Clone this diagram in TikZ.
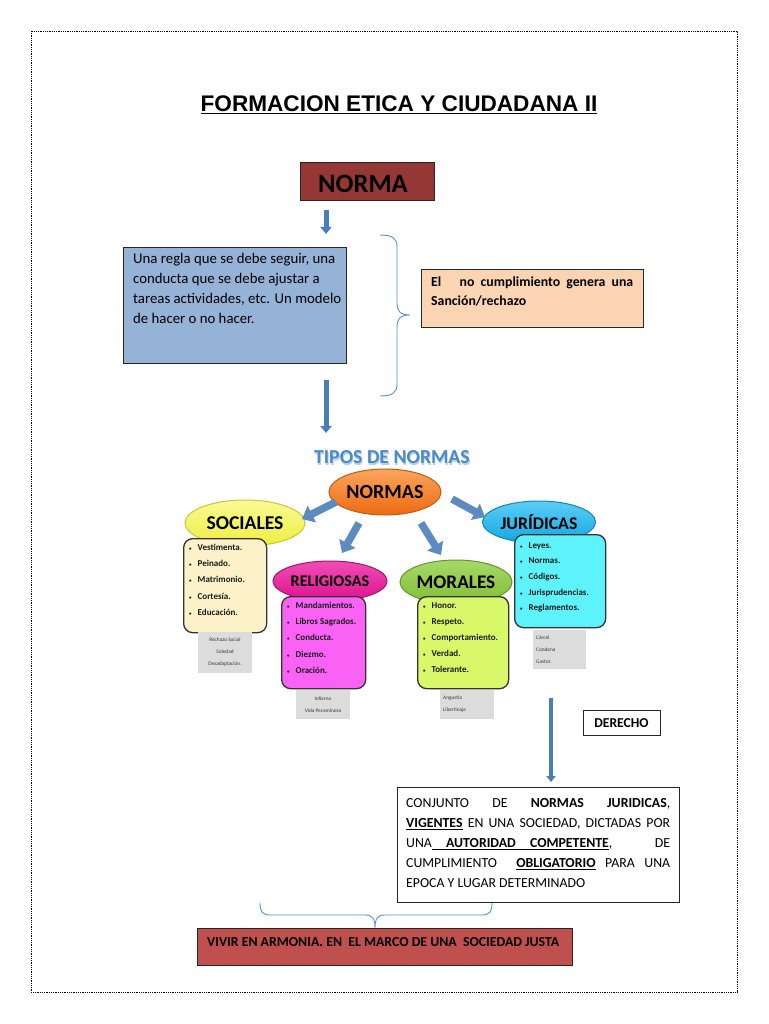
\documentclass[tikz,border=0pt]{standalone}
\usepackage{fontspec}
\setmainfont{Carlito}
\newfontfamily\arialf{Liberation Sans}
\usetikzlibrary{shapes.geometric,arrows.meta,calc}
\definecolor{normared}{HTML}{953735}
\definecolor{bluebox}{HTML}{95B3D7}
\definecolor{peach}{HTML}{FBD4B4}
\definecolor{redbox}{HTML}{C0504D}
\definecolor{arrowblue}{HTML}{4A7EBB}
\definecolor{bracecol}{HTML}{5B93D3}
\definecolor{tiposblue}{HTML}{4A8AC8}
\definecolor{orangeT}{HTML}{FBA55E}
\definecolor{orangeB}{HTML}{EE6A12}
\definecolor{orangeD}{HTML}{C05A10}
\definecolor{yellowT}{HTML}{FAFA95}
\definecolor{yellowB}{HTML}{EEEE40}
\definecolor{yellowD}{HTML}{C8C830}
\definecolor{cyanT}{HTML}{5CCDF5}
\definecolor{cyanB}{HTML}{12A8E2}
\definecolor{cyanD}{HTML}{0E86B8}
\definecolor{magT}{HTML}{F04DB5}
\definecolor{magB}{HTML}{DD1290}
\definecolor{magD}{HTML}{A80E6E}
\definecolor{greenT}{HTML}{A8D868}
\definecolor{greenB}{HTML}{80BE36}
\definecolor{greenD}{HTML}{62982A}
\definecolor{socfill}{HTML}{FDF1C9}
\definecolor{relfill}{HTML}{FA62F5}
\definecolor{morfill}{HTML}{D8F86A}
\definecolor{jurfill}{HTML}{5CF3FC}
\definecolor{grayfill}{HTML}{DCDCDC}
\definecolor{itemtext}{HTML}{1A1A1A}
\begin{document}
\begin{tikzpicture}[x=1pt,y=-1pt,
  plainbox/.style={draw=black!85, line width=0.8pt, minimum width=#1, inner sep=0pt},
  vblock/.style={draw=arrowblue, line width=5pt, -{Triangle[width=11pt,length=7pt]}},
  fatarrow/.style={draw=arrowblue!90, line width=7.5pt, -{Triangle[width=18pt,length=11pt]}},
  bracedeco/.style={draw=bracecol, line width=0.9pt},
  ell/.style={ellipse, line width=1pt, inner sep=0pt, font=\bfseries},
  listbox/.style={draw=black!80, line width=1.3pt, rounded corners=9pt, inner sep=0pt},
  listtext/.style={anchor=north west, inner sep=0pt, align=left, text=itemtext, font=\bfseries\fontsize{9}{16.2}\selectfont},
  graybox/.style={fill=grayfill, inner sep=0pt},
  graytext/.style={inner sep=0pt, text=black!78, font=\fontsize{5.3}{12}\selectfont}
]
\useasboundingbox (0,0) rectangle (768,1024);
\fill[white] (0,0) rectangle (768,1024);
\draw[densely dotted, line width=0.8pt] (31,31) rectangle (737,992);

% title
\node (title) at (399,105) {\arialf\bfseries\fontsize{22.6}{26}\selectfont\underline{FORMACION ETICA Y CIUDADANA II}};

% NORMA
\node[plainbox=134pt, minimum height=38pt, fill=normared] (norma) at (367,181) {};
\node[inner sep=0pt] (normatxt) at (363,184) {\bfseries\fontsize{26.5}{28}\selectfont NORMA};

\coordinate (a1s) at (326,210);
\coordinate (a1e) at (326,234);
\draw[vblock] (a1s) -- (a1e);

% blue definition box
\node[plainbox=223pt, minimum height=116pt, fill=bluebox, anchor=north west] (def) at (123,247) {};
\node[anchor=north west, inner sep=0pt, align=left, font=\fontsize{14.8}{20}\selectfont] (deftxt) at (133,253)
  {Una regla que se debe seguir, una\\conducta que se debe ajustar a\\tareas actividades, etc. Un modelo\\de hacer o no hacer.};

% right brace
\coordinate (brt) at (380,235);
\coordinate (brm) at (410,315);
\coordinate (brb) at (380,396);
\draw[bracedeco] (brt) .. controls (392,235) and (397,238) .. (397,247) -- (397,303)
  .. controls (397,311) and (400,315) .. (brm)
  .. controls (400,315) and (397,319) .. (397,327) -- (397,384)
  .. controls (397,393) and (392,396) .. (brb);

% peach box
\node[plainbox=222pt, minimum height=58pt, fill=peach, anchor=north west] (sancion) at (421,269) {};
\node[anchor=north west, inner sep=0pt, align=left, font=\bfseries\fontsize{13.8}{19}\selectfont] (sanciontxt) at (431,277)
  {\makebox[202pt][s]{El\ \ \ no cumplimiento genera una}\\Sanción/rechazo};

\coordinate (a2s) at (326,380);
\coordinate (a2e) at (326,433);
\draw[vblock] (a2s) -- (a2e);

% TIPOS DE NORMAS
\node[text=tiposblue!40, inner sep=0pt] (tiposshadow) at (392.8,459) {\bfseries\fontsize{19.8}{22}\selectfont TIPOS DE NORMAS};
\node[text=tiposblue, inner sep=0pt] (tipos) at (392,457) {\bfseries\fontsize{19.8}{22}\selectfont TIPOS DE NORMAS};

% ellipses
\node[ell, minimum width=112pt, minimum height=46pt, top color=orangeT, bottom color=orangeB, draw=orangeD, font=\bfseries\fontsize{20}{22}\selectfont] (normas) at (385,492) {NORMAS};
\node[ell, minimum width=120pt, minimum height=46pt, top color=yellowT, bottom color=yellowB, draw=yellowD, font=\bfseries\fontsize{19.6}{22}\selectfont] (sociales) at (245,523) {SOCIALES};
\node[ell, minimum width=113pt, minimum height=42pt, top color=cyanT, bottom color=cyanB, draw=cyanD, font=\bfseries\fontsize{17.8}{20}\selectfont] (juridicas) at (539,522) {JURÍDICAS};
\node[ell, minimum width=114pt, minimum height=40pt, top color=magT, bottom color=magB, draw=magD, font=\bfseries\fontsize{16.2}{20}\selectfont] (religiosas) at (330,581) {RELIGIOSAS};
\node[ell, minimum width=112pt, minimum height=44pt, top color=greenT, bottom color=greenB, draw=greenD, font=\bfseries\fontsize{19.2}{22}\selectfont] (morales) at (456,582) {MORALES};

% fat arrows
\coordinate (f1s) at (336,502);
\coordinate (f1e) at (302,519);
\coordinate (f2s) at (452,499);
\coordinate (f2e) at (485,517);
\coordinate (f3s) at (359,523);
\coordinate (f3e) at (342,553);
\coordinate (f4s) at (421,523);
\coordinate (f4e) at (441,555);
\draw[fatarrow] (f1s) -- (f1e);
\draw[fatarrow] (f2s) -- (f2e);
\draw[fatarrow] (f3s) -- (f3e);
\draw[fatarrow] (f4s) -- (f4e);

% list boxes
\node[listbox, fill=socfill, minimum width=83pt, minimum height=94pt, anchor=north west] (socbox) at (183,538) {};
\node[listtext] (soclist) at (189,544) {{\tiny•}\hspace{6pt}Vestimenta.\\{\tiny•}\hspace{6pt}Peinado.\\{\tiny•}\hspace{6pt}Matrimonio.\\{\tiny•}\hspace{6pt}Cortesía.\\{\tiny•}\hspace{6pt}Educación.};

\node[listbox, fill=relfill, minimum width=84pt, minimum height=92pt, anchor=north west] (relbox) at (281,596) {};
\node[listtext] (rellist) at (287,602) {{\tiny•}\hspace{6pt}Mandamientos.\\{\tiny•}\hspace{6pt}Libros Sagrados.\\{\tiny•}\hspace{6pt}Conducta.\\{\tiny•}\hspace{6pt}Diezmo.\\{\tiny•}\hspace{6pt}Oración.};

\node[listbox, fill=morfill, minimum width=91pt, minimum height=92pt, anchor=north west] (morbox) at (417,596) {};
\node[listtext] (morlist) at (423,602) {{\tiny•}\hspace{6pt}Honor.\\{\tiny•}\hspace{6pt}Respeto.\\{\tiny•}\hspace{6pt}Comportamiento.\\{\tiny•}\hspace{6pt}Verdad.\\{\tiny•}\hspace{6pt}Tolerante.};

\node[listbox, fill=jurfill, minimum width=91pt, minimum height=93pt, anchor=north west] (jurbox) at (514,534) {};
\node[listtext, font=\bfseries\fontsize{9}{15.7}\selectfont] (jurlist) at (520,542) {{\tiny•}\hspace{6pt}Leyes.\\{\tiny•}\hspace{6pt}Normas.\\{\tiny•}\hspace{6pt}Códigos.\\{\tiny•}\hspace{6pt}Jurisprudencias.\\{\tiny•}\hspace{6pt}Reglamentos.};

% gray boxes
\node[graybox, minimum width=54pt, minimum height=41pt] (g1) at (225,652.5) {};
\node[graytext, align=center] (g1t) at (225,652.5) {Rechazo Social\\Soledad\\Desadaptación.};
\node[graybox, minimum width=54pt, minimum height=29pt] (g2) at (323,704.5) {};
\node[graytext, align=center] (g2t) at (323,704.5) {Infierno\\Vida Pecaminosa};
\node[graybox, minimum width=54pt, minimum height=29pt] (g3) at (467,704.5) {};
\node[graytext, align=left, anchor=west] (g3t) at (443,704.5) {Angustia\\Libertinaje};
\node[graybox, minimum width=53pt, minimum height=39pt] (g4) at (559.5,649.5) {};
\node[graytext, align=left, anchor=west] (g4t) at (536,649.5) {Cárcel\\Condena\\Gastos};

% derecho arrow and box
\coordinate (a3s) at (551,698);
\coordinate (a3e) at (551,782);
\draw[vblock, line width=4.5pt, -{Triangle[width=9pt,length=6pt]}] (a3s) -- (a3e);
\node[plainbox=77pt, minimum height=25pt, font=\bfseries\fontsize{13.6}{15}\selectfont] (derecho) at (621.5,723) {DERECHO};

% conjunto box
\node[plainbox=282pt, minimum height=115pt, anchor=north west, line width=1pt] (conj) at (397,787) {};
\node[anchor=north west, inner sep=0pt, align=left, font=\fontsize{13.8}{20}\selectfont] (conjtxt) at (406,798)
 {\makebox[264pt][s]{CONJUNTO DE \textbf{NORMAS JURIDICAS},}\\
  \makebox[264pt][s]{\underline{\textbf{VIGENTES}} EN UNA SOCIEDAD, DICTADAS POR}\\
  \makebox[264pt][l]{UNA\underline{\makebox[177pt][s]{\ \textbf{AUTORIDAD}\ \textbf{COMPETENTE}}},\hfill DE}\\
  \makebox[264pt][s]{CUMPLIMIENTO\ \ \underline{\textbf{OBLIGATORIO}} PARA UNA}\\
  EPOCA Y LUGAR DETERMINADO};

% bottom brace
\coordinate (bbl) at (260,903);
\coordinate (bbm) at (375,928);
\coordinate (bbr) at (492,903);
\draw[bracedeco] (bbl) .. controls (260,911) and (262,915) .. (270,915) -- (365,915)
  .. controls (372,915) and (375,918) .. (bbm)
  .. controls (375,918) and (378,915) .. (385,915) -- (482,915)
  .. controls (490,915) and (492,911) .. (bbr);

% bottom red box
\node[plainbox=375pt, minimum height=37pt, fill=redbox, anchor=north west, line width=1pt] (vivir) at (197,928) {};
\node[anchor=west, inner sep=0pt, font=\bfseries\fontsize{13.8}{15}\selectfont] (vivirtxt) at (207,942) {VIVIR EN ARMONIA. EN\ \ EL MARCO DE UNA\ \ SOCIEDAD JUSTA};
\end{tikzpicture}
\end{document}
